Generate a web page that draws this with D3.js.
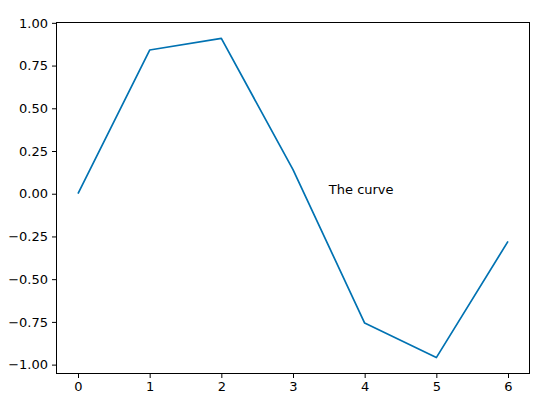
<!DOCTYPE html>
<html>
<head>
<meta charset="utf-8">
<script src="https://cdn.jsdelivr.net/npm/d3@7"></script>
<style>
  html, body { margin: 0; padding: 0; background: #fff; }
  text { font-family: "DejaVu Sans", sans-serif; }
</style>
</head>
<body>
<svg id="chart" width="552" height="405"></svg>
<script>
const xValues = [0, 1, 2, 3, 4, 5, 6];
const yValues = [0.0, 0.841, 0.909, 0.141, -0.757, -0.959, -0.279];
const xTicks = [0, 1, 2, 3, 4, 5, 6];
const yTicks = [-1.0, -0.75, -0.5, -0.25, 0.0, 0.25, 0.5, 0.75, 1.0];
const annotation = { text: "The curve", x: 3.5, y: 0.0 };

const svg = d3.select("#chart");
const mLeft = 56.5, mRight = 529.5, mTop = 22.5, mBottom = 373.5;

const x = d3.scaleLinear().domain([-0.3, 6.3]).range([mLeft, mRight]);
const y = d3.scaleLinear().domain([-1.052, 1.002]).range([mBottom, mTop]);

const fontSize = "13px";

const xAxis = svg.append("g").attr("transform", `translate(0,${mBottom})`)
  .call(d3.axisBottom(x).tickValues(xTicks).tickFormat(d3.format("d")).tickSizeOuter(0).tickSize(4.5).tickPadding(4));
const yAxis = svg.append("g").attr("transform", `translate(${mLeft},0)`)
  .call(d3.axisLeft(y).tickValues(yTicks).tickFormat(d => d3.format(".2f")(d).replace("-", "\u2212")).tickSizeOuter(0).tickSize(4.5).tickPadding(4));

[xAxis, yAxis].forEach(g => {
  g.select(".domain").remove();
  g.selectAll("line").attr("stroke", "#000").attr("stroke-width", 1);
  g.selectAll("text").attr("fill", "#000").style("font-size", fontSize).style("font-family", "DejaVu Sans");
});

svg.append("rect")
  .attr("x", mLeft).attr("y", mTop)
  .attr("width", mRight - mLeft).attr("height", mBottom - mTop)
  .attr("fill", "none").attr("stroke", "#000").attr("stroke-width", 1);

const pts = xValues.map((v, i) => [v, yValues[i]]);
svg.append("path")
  .datum(pts)
  .attr("fill", "none")
  .attr("stroke", "#0072B2")
  .attr("stroke-width", 1.7)
  .attr("stroke-linejoin", "round")
  .attr("d", d3.line().x(d => x(d[0])).y(d => y(d[1])));

svg.append("text")
  .attr("x", x(annotation.x))
  .attr("y", y(annotation.y))
  .attr("fill", "#000")
  .style("font-size", fontSize)
  .text(annotation.text);
</script>
</body>
</html>
